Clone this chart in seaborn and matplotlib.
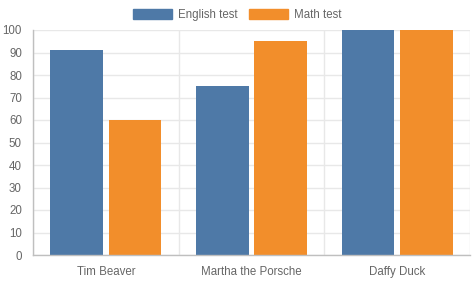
import matplotlib
matplotlib.use("Agg")
import matplotlib.pyplot as plt
import seaborn as sns
import pandas as pd
from matplotlib.patches import Patch

students = ["Tim Beaver", "Martha the Porsche", "Daffy Duck"]
english = [91, 75, 100]
math = [60, 95, 100]
series = ["English test", "Math test"]
yticks = [0, 10, 20, 30, 40, 50, 60, 70, 80, 90, 100]

df = pd.DataFrame({
    "student": students * 2,
    "score": english + math,
    "test": [series[0]] * 3 + [series[1]] * 3,
})

sns.set_style("white")
plt.rcParams["font.family"] = ["Liberation Sans", "DejaVu Sans"]

W, H = 474, 283
fig = plt.figure(figsize=(W / 100, H / 100), dpi=100)
ax = fig.add_axes([33 / W, (H - 255) / H, 437 / W, 225 / H])

colors = ["#4e79a7", "#f28e2b"]
sns.barplot(data=df, x="student", y="score", hue="test", palette=colors,
            width=0.8, gap=0.1, ax=ax, legend=False, saturation=1)
for p in ax.patches:
    p.set_linewidth(0)

ax.set_xlim(-0.5, 2.5)
ax.set_ylim(0, 100)
ax.set_xlabel("")
ax.set_ylabel("")
ax.set_yticks(yticks)
ax.set_yticklabels([str(v) for v in yticks])
ax.set_xticks([-0.5, 0.5, 1.5, 2.5], minor=True)
ax.tick_params(axis="x", which="major", length=0, pad=8, labelsize=8.3, colors="#666666")
ax.tick_params(axis="x", which="minor", length=8, color="#d9d9d9", width=1)
ax.tick_params(axis="y", length=5, color="#d9d9d9", width=1, pad=3, labelsize=8.3, labelcolor="#666666")

ax.set_axisbelow(True)
ax.grid(False)
ax.yaxis.grid(True, color="#e8e8e8", linewidth=1)
ax.xaxis.grid(True, which="minor", color="#e8e8e8", linewidth=1)
for s in ["top", "right"]:
    ax.spines[s].set_visible(False)
ax.spines["left"].set_color("#bfbfbf")
ax.spines["bottom"].set_color("#bfbfbf")
ax.spines["left"].set_linewidth(1)
ax.spines["bottom"].set_linewidth(1)

handles = [Patch(facecolor=c, edgecolor=c) for c in colors]
fig.legend(handles, series, loc="center", bbox_to_anchor=(0.5, 1 - 15 / H),
           ncol=2, frameon=False, handlelength=3.4, handleheight=0.9,
           handletextpad=0.5, columnspacing=1.0, fontsize=8.3,
           labelcolor="#666666")

fig.savefig("out.png", dpi=100)
